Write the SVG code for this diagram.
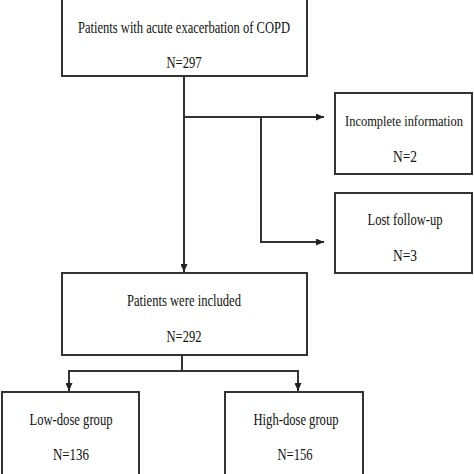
<svg xmlns="http://www.w3.org/2000/svg" width="474" height="474" viewBox="0 0 474 474">
<defs>
<marker id="ah" viewBox="0 0 8 7" refX="8" refY="3.5" markerWidth="8" markerHeight="7" orient="auto" markerUnits="userSpaceOnUse">
<path d="M0,0 L8,3.5 L0,7 z" fill="#222"/>
</marker>
<style>
.box{fill:#fff;stroke:#333;stroke-width:2}
.t{font-family:"Liberation Serif","Times New Roman",serif;font-size:16px;fill:#111;text-anchor:middle}
.c{fill:none;stroke:#333;stroke-width:2}
</style>
</defs>
<rect width="474" height="474" fill="#fff"/>
<g id="connectors">
<path class="c" d="M184,76 V272" marker-end="url(#ah)"/>
<path class="c" d="M184,117 H324" marker-end="url(#ah)"/>
<path class="c" d="M261,117 V242 H324" marker-end="url(#ah)"/>
<path class="c" d="M182,355 V371"/>
<path class="c" d="M69,371 H298"/>
<path class="c" d="M69,370 V391" marker-end="url(#ah)"/>
<path class="c" d="M298,370 V391" marker-end="url(#ah)"/>
</g>
<g id="n1">
<rect class="box" x="62" y="-1" width="245" height="77"/>
<text class="t" x="184" y="33" textLength="212" lengthAdjust="spacingAndGlyphs">Patients with acute exacerbation of COPD</text>
<text class="t" x="184" y="68" textLength="35" lengthAdjust="spacingAndGlyphs">N=297</text>
</g>
<g id="n2">
<rect class="box" x="335" y="93" width="137" height="81"/>
<text class="t" x="404" y="126" style="font-size:14px" textLength="118" lengthAdjust="spacingAndGlyphs">Incomplete information</text>
<text class="t" x="405" y="162" textLength="24" lengthAdjust="spacingAndGlyphs">N=2</text>
</g>
<g id="n3">
<rect class="box" x="335" y="193" width="137" height="80"/>
<text class="t" x="405" y="225" textLength="75" lengthAdjust="spacingAndGlyphs">Lost follow-up</text>
<text class="t" x="405" y="261" textLength="24" lengthAdjust="spacingAndGlyphs">N=3</text>
</g>
<g id="n4">
<rect class="box" x="62" y="273" width="245" height="82"/>
<text class="t" x="184" y="306" textLength="114" lengthAdjust="spacingAndGlyphs">Patients were included</text>
<text class="t" x="184" y="342" textLength="35" lengthAdjust="spacingAndGlyphs">N=292</text>
</g>
<g id="n5">
<rect class="box" x="2" y="392" width="137" height="84"/>
<text class="t" x="71" y="425" textLength="83" lengthAdjust="spacingAndGlyphs">Low-dose group</text>
<text class="t" x="71" y="460" textLength="36" lengthAdjust="spacingAndGlyphs">N=136</text>
</g>
<g id="n6">
<rect class="box" x="225" y="392" width="138" height="84"/>
<text class="t" x="296" y="425" textLength="85" lengthAdjust="spacingAndGlyphs">High-dose group</text>
<text class="t" x="295" y="460" textLength="35" lengthAdjust="spacingAndGlyphs">N=156</text>
</g>
</svg>
